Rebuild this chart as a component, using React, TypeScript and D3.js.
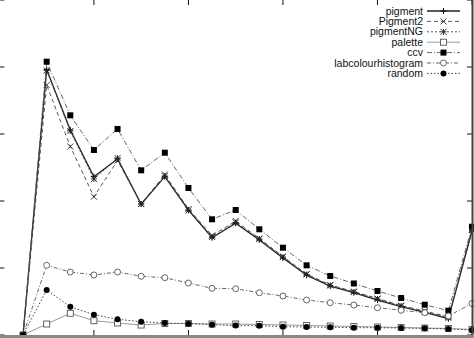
import React from 'react';
import * as d3 from 'd3';

const xValues = [0, 1, 2, 3, 4, 5, 6, 7, 8, 9, 10, 11, 12, 13, 14, 15, 16, 17, 18, 19];

const pigment = [0, 3.963, 3.06, 2.363, 2.627, 1.955, 2.363, 1.866, 1.452, 1.667, 1.418, 1.149, 0.891, 0.731, 0.631, 0.522, 0.422, 0.339, 0.243, 1.552];
const pigment2 = [0, 3.731, 2.813, 2.064, 2.604, 1.955, 2.396, 1.881, 1.485, 1.701, 1.44, 1.172, 0.91, 0.746, 0.649, 0.545, 0.44, 0.358, 0.269, 1.575];
const pigmentNG = [0, 3.948, 3.045, 2.328, 2.642, 1.955, 2.373, 1.858, 1.463, 1.679, 1.433, 1.164, 0.903, 0.739, 0.642, 0.537, 0.433, 0.343, 0.254, 1.567];
const palette = [0, 0.164, 0.324, 0.213, 0.179, 0.149, 0.172, 0.172, 0.164, 0.164, 0.157, 0.149, 0.142, 0.134, 0.127, 0.119, 0.112, 0.104, 0.097, 0.082];
const ccv = [0, 4.079, 3.279, 2.761, 3.075, 2.458, 2.721, 2.194, 1.727, 1.866, 1.578, 1.303, 1.04, 0.881, 0.769, 0.657, 0.552, 0.452, 0.363, 1.616];
const labcolourhistogram = [0, 1.04, 0.94, 0.896, 0.94, 0.876, 0.855, 0.776, 0.697, 0.691, 0.631, 0.582, 0.522, 0.482, 0.448, 0.407, 0.369, 0.333, 0.284, 0.47];
const random = [0, 0.672, 0.422, 0.303, 0.234, 0.199, 0.179, 0.169, 0.154, 0.14, 0.139, 0.124, 0.119, 0.115, 0.109, 0.109, 0.104, 0.1, 0.09, 0.075];

const seriesNames = ['pigment', 'Pigment2', 'pigmentNG', 'palette', 'ccv', 'labcolourhistogram', 'random'];
const seriesValues = [pigment, pigment2, pigmentNG, palette, ccv, labcolourhistogram, random];

const xTicks = [-1, 3, 7, 11, 15, 19];
const yTicks = [0, 1, 2, 3, 4, 5];

type Style = { dash: string; stroke: string; width: number; marker: string };
const styles: Style[] = [
  { dash: '', stroke: '#222', width: 1.3, marker: 'plus' },
  { dash: '4,3', stroke: '#444', width: 0.9, marker: 'cross' },
  { dash: '2,2', stroke: '#444', width: 0.9, marker: 'star' },
  { dash: '', stroke: '#9a9a9a', width: 1, marker: 'osquare' },
  { dash: '5,2,1,2', stroke: '#555', width: 0.9, marker: 'fsquare' },
  { dash: '4,2,1,2', stroke: '#555', width: 0.9, marker: 'ocircle' },
  { dash: '1.5,2', stroke: '#444', width: 1, marker: 'fcircle' },
];

function Marker({ type, x, y }: { type: string; x: number; y: number }) {
  const s = 3;
  switch (type) {
    case 'plus':
      return <path d={`M${x - s},${y}H${x + s}M${x},${y - s}V${y + s}`} stroke="#111" strokeWidth={1} />;
    case 'cross':
      return <path d={`M${x - s},${y - s}L${x + s},${y + s}M${x - s},${y + s}L${x + s},${y - s}`} stroke="#222" strokeWidth={0.9} />;
    case 'star':
      return (
        <path
          d={`M${x - s},${y}H${x + s}M${x},${y - s}V${y + s}M${x - s},${y - s}L${x + s},${y + s}M${x - s},${y + s}L${x + s},${y - s}`}
          stroke="#222"
          strokeWidth={0.9}
        />
      );
    case 'osquare':
      return <rect x={x - s} y={y - s} width={2 * s} height={2 * s} fill="white" stroke="#555" strokeWidth={0.9} />;
    case 'fsquare':
      return <rect x={x - s} y={y - s} width={2 * s} height={2 * s} fill="#000" />;
    case 'ocircle':
      return <circle cx={x} cy={y} r={s} fill="white" stroke="#555" strokeWidth={0.9} />;
    case 'fcircle':
      return <circle cx={x} cy={y} r={s} fill="#000" />;
    default:
      return null;
  }
}

export default function App() {
  const width = 474;
  const height = 338;
  const x = d3.scaleLinear().domain([-1, 19]).range([-0.6, 472]);
  const y = d3.scaleLinear().domain([0, 5]).range([335, 0]);
  const left = x(-1);
  const right = x(19);
  const bottom = y(0);
  const top = y(5);

  const line = d3
    .line<number>()
    .x((_, i) => x(xValues[i]))
    .y((d) => y(d));

  const legendX = 423;
  const legendY0 = 11;
  const legendDy = 10.4;

  return (
    <svg
      width={width}
      height={height}
      style={{ position: 'absolute', left: 0, top: 0, background: 'white' }}
      fontFamily="'Liberation Sans', Arial, sans-serif"
    >
      <rect x={0} y={0} width={width} height={height} fill="white" />
      {/* ticks */}
      {yTicks.map((t) => (
        <g key={'y' + t}>
          <line x1={left} x2={left + 5} y1={y(t)} y2={y(t)} stroke="#111" strokeWidth={1} />
          <line x1={right - 5} x2={right} y1={y(t)} y2={y(t)} stroke="#111" strokeWidth={1} />
        </g>
      ))}
      {xTicks.map((t) => (
        <g key={'x' + t}>
          <line x1={x(t)} x2={x(t)} y1={bottom} y2={bottom - 5} stroke="#111" strokeWidth={1} />
          <line x1={x(t)} x2={x(t)} y1={top} y2={top + 5} stroke="#111" strokeWidth={1} />
        </g>
      ))}
      {/* series */}
      {seriesValues.map((vals, si) => (
        <path
          key={'l' + si}
          d={line(vals) || ''}
          fill="none"
          stroke={styles[si].stroke}
          strokeWidth={styles[si].width}
          strokeDasharray={styles[si].dash || undefined}
        />
      ))}
      {seriesValues.map((vals, si) => (
        <g key={'m' + si}>
          {vals.map((v, i) => (
            <Marker key={i} type={styles[si].marker} x={x(xValues[i])} y={y(v)} />
          ))}
        </g>
      ))}
      {/* frame (only right and bottom edges fall inside the view) */}
      <line x1={right + 0.5} x2={right + 0.5} y1={top} y2={bottom + 2} stroke="#444" strokeWidth={2} />
      <line x1={left} x2={right + 1.5} y1={bottom + 1.5} y2={bottom + 1.5} stroke="#888" strokeWidth={3} />
      {/* legend */}
      {seriesNames.map((name, si) => {
        const ly = legendY0 + si * legendDy;
        return (
          <g key={'lg' + si}>
            <text x={legendX} y={ly} dy="0.35em" textAnchor="end" fontSize={10.5} fill="#111">
              {name}
            </text>
            <line
              x1={427}
              x2={460}
              y1={ly}
              y2={ly}
              stroke={styles[si].stroke}
              strokeWidth={styles[si].width}
              strokeDasharray={styles[si].dash || undefined}
            />
            <Marker type={styles[si].marker} x={443.5} y={ly} />
          </g>
        );
      })}
    </svg>
  );
}
